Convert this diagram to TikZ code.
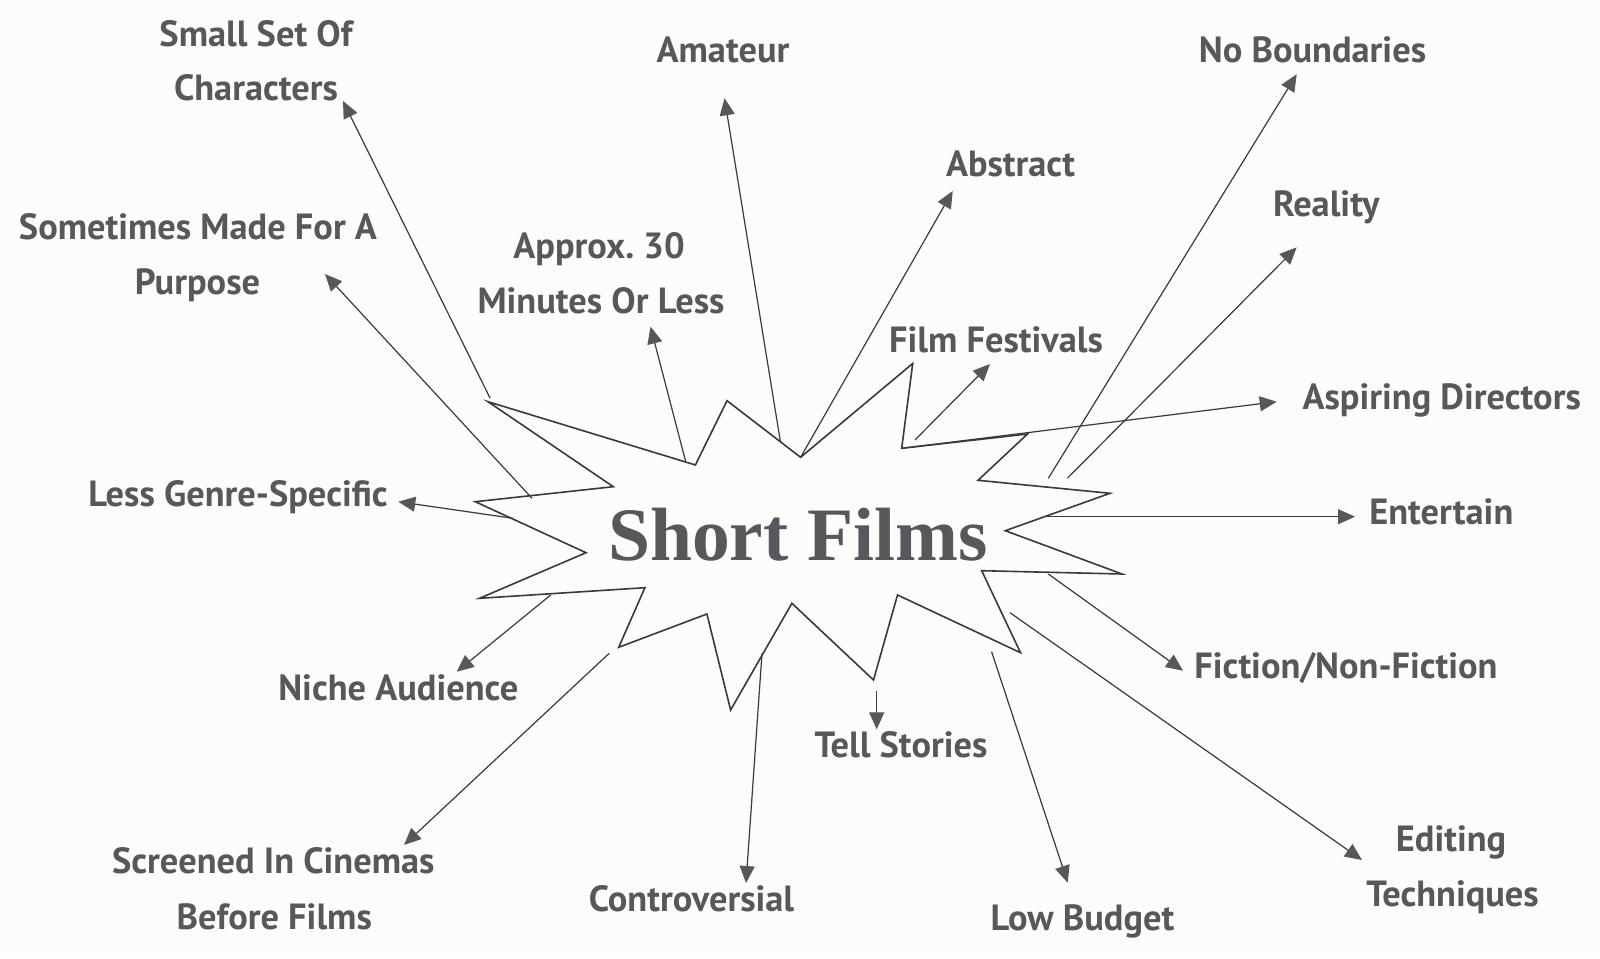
\documentclass[tikz,border=0pt]{standalone}
\usepackage{fontspec}
\setmainfont{PT Sans}
\newfontfamily\titlefont{Liberation Serif}
\usetikzlibrary{arrows.meta}
\definecolor{txt}{HTML}{57575C}
\definecolor{ln}{HTML}{3A3A3A}
\definecolor{bg}{HTML}{FCFCFA}
\frenchspacing
\begin{document}
\begin{tikzpicture}[x=1pt,y=-1pt,
  lbl/.style={font=\bfseries\fontsize{36.4}{42}\selectfont, text=txt, anchor=base, inner sep=0pt},
  arr/.style={draw=ln, line width=1.2pt, -{Triangle[length=17pt,width=15pt,fill=txt,color=txt]}},
  starline/.style={draw=ln, line width=1.6pt, line join=miter}]
\fill[bg] (0,0) rectangle (1600,958);
\useasboundingbox (0,0) rectangle (1600,958);

% star vertices
\coordinate (s1) at (488,401.7);
\coordinate (s2) at (695.4,465);
\coordinate (s3) at (727,400.7);
\coordinate (s4) at (800.6,457.3);
\coordinate (s5) at (912.7,363.5);
\coordinate (s6) at (901.7,448.3);
\coordinate (s7) at (1027.5,434);
\coordinate (s8) at (978,480.3);
\coordinate (s9) at (1110,493.3);
\coordinate (s10) at (1005.3,530.7);
\coordinate (s11) at (1122,574);
\coordinate (s12) at (981.7,570.7);
\coordinate (s13) at (1020.5,652.7);
\coordinate (s14) at (897.5,595);
\coordinate (s15) at (873.5,680);
\coordinate (s16) at (791.9,603.3);
\coordinate (s17) at (730.6,710);
\coordinate (s18) at (706.9,614);
\coordinate (s19) at (618.7,647.3);
\coordinate (s20) at (644.9,587.7);
\coordinate (s21) at (479.5,598.3);
\coordinate (s22) at (586,552.7);
\coordinate (s23) at (475.3,501.7);
\coordinate (s24) at (613.3,486.7);

\draw[starline] (s1)--(s2)--(s3)--(s4)--(s5)--(s6)--(s7)--(s8)--(s9)--(s10)--(s11)--(s12)--(s13)--(s14)--(s15)--(s16)--(s17)--(s18)--(s19)--(s20)--(s21)--(s22)--(s23)--(s24)--cycle;

\node[font=\titlefont\bfseries\fontsize{75.5}{80}\selectfont, text=txt, anchor=base, inner sep=0pt] (title) at (798,560) {Short Films};

% labels
\node[lbl] (smallA) at (256,46.7) {Small Set Of};
\node[lbl] (smallB) at (256,100) {Characters};
\node[lbl] (amateur) at (723,63) {Amateur};
\node[lbl] (nobound) at (1312.5,62.3) {No Boundaries};
\node[lbl] (abstract) at (1010.5,176.7) {Abstract};
\node[lbl] (reality) at (1326.3,216.7) {Reality};
\node[lbl] (someA) at (198,239) {Sometimes Made For A};
\node[lbl] (someB) at (197.5,294) {Purpose};
\node[lbl] (approxA) at (599,258.3) {Approx.\ 30};
\node[lbl] (approxB) at (601,313) {Minutes Or Less};
\node[lbl] (festivals) at (996,352.3) {Film Festivals};
\node[lbl] (aspiring) at (1441.7,409) {Aspiring Directors};
\node[lbl] (genre) at (238,506) {Less Genre-Specific};
\node[lbl] (entertain) at (1441.3,524.3) {Entertain};
\node[lbl] (fiction) at (1346,678.3) {Fiction/Non-Fiction};
\node[lbl] (niche) at (398.3,700.7) {Niche Audience};
\node[lbl] (tell) at (901,757.3) {Tell Stories};
\node[lbl] (editA) at (1451,851.7) {Editing};
\node[lbl] (editB) at (1452.5,906.7) {Techniques};
\node[lbl] (screenA) at (273.3,873.3) {Screened In Cinemas};
\node[lbl] (screenB) at (274.3,929.3) {Before Films};
\node[lbl] (contro) at (691.5,911.7) {Controversial};
\node[lbl] (lowbud) at (1082.5,930) {Low Budget};

% arrow ends
\coordinate (aSmall) at (490,398);      \coordinate (tSmall) at (343,101);
\coordinate (aSome) at (532,498.3);     \coordinate (tSome) at (325,274);
\coordinate (aGenre) at (513,518.3);    \coordinate (tGenre) at (398.3,501.7);
\coordinate (aApprox) at (685.7,461.7); \coordinate (tApprox) at (650.5,326.7);
\coordinate (aAmat) at (780.4,441.7);   \coordinate (tAmat) at (724.5,98.3);
\coordinate (aAbs) at (s4);             \coordinate (tAbs) at (952.7,191);
\coordinate (aFest) at (915,440);       \coordinate (tFest) at (990,364);
\coordinate (aAsp) at (s6);             \coordinate (tAsp) at (1276.7,401.7);
\coordinate (aNoB) at (1048.3,478.3);   \coordinate (tNoB) at (1296.7,74.3);
\coordinate (aReal) at (1067.3,478.3);  \coordinate (tReal) at (1296.7,247.3);
\coordinate (aEnt) at (1047.3,516.7);   \coordinate (tEnt) at (1355,516.7);
\coordinate (aFic) at (1048.3,574);     \coordinate (tFic) at (1183,670.7);
\coordinate (aEdit) at (1010,612.7);    \coordinate (tEdit) at (1362,860);
\coordinate (aLow) at (991.6,651.7);    \coordinate (tLow) at (1067.7,882.7);
\coordinate (aTell) at (876.7,690.7);   \coordinate (tTell) at (876.7,729.3);
\coordinate (aCon) at (762,653.3);      \coordinate (tCon) at (746,883);
\coordinate (aScr) at (609.2,653.3);    \coordinate (tScr) at (404,845);
\coordinate (aNiche) at (550.7,595);    \coordinate (tNiche) at (456.7,671.7);

\foreach \a/\t in {aSmall/tSmall,aSome/tSome,aGenre/tGenre,aApprox/tApprox,aAmat/tAmat,aAbs/tAbs,aFest/tFest,aAsp/tAsp,aNoB/tNoB,aReal/tReal,aEnt/tEnt,aFic/tFic,aEdit/tEdit,aLow/tLow,aTell/tTell,aCon/tCon,aScr/tScr,aNiche/tNiche}
  \draw[arr] (\a) -- (\t);
\end{tikzpicture}
\end{document}
